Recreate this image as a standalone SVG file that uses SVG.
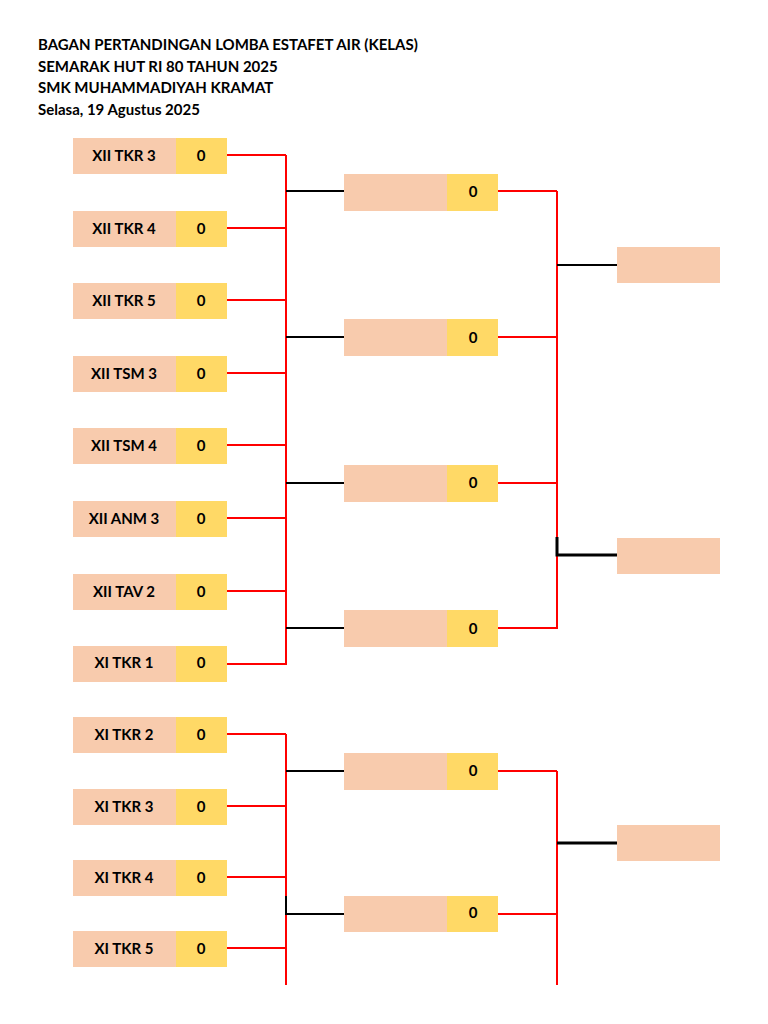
<svg xmlns="http://www.w3.org/2000/svg" width="768" height="1024" viewBox="0 0 768 1024">
<style>
.t{font-family:Lato,"Liberation Sans",sans-serif;font-weight:bold;font-size:15px;fill:#000}
.n{fill:#F8CBAD}
.s{fill:#FFD966}
.l{font-family:Lato,"Liberation Sans",sans-serif;font-weight:bold;font-size:15px;fill:#000;text-anchor:middle;dominant-baseline:central}
.r{stroke:#FF0000;stroke-width:2;fill:none}
.k{stroke:#000;stroke-width:2;fill:none}
.kk{stroke:#000;stroke-width:3;fill:none}
</style>
<rect width="768" height="1024" fill="#fff"/>
<g id="title">
<text class="t" x="38" y="50">BAGAN PERTANDINGAN LOMBA ESTAFET AIR (KELAS)</text>
<text class="t" x="38" y="72">SEMARAK HUT RI 80 TAHUN 2025</text>
<text class="t" x="38" y="93">SMK MUHAMMADIYAH KRAMAT</text>
<text class="t" x="38" y="115">Selasa, 19 Agustus 2025</text>
</g>
<g id="connectors">
<path class="r" d="M227 155H286M227 228H286M227 300H286M227 373H286M227 445H286M227 518H286M227 591H286M227 664H286M286 155V665"/>
<path class="k" d="M286 191H344M286 337H344M286 483H344M286 628H344"/>
<path class="r" d="M498 191H557M498 337H557M498 483H557M498 628H557M557 191V629"/>
<path class="k" d="M557 265H617"/>
<path class="kk" d="M557 537V555H617"/>
<path class="r" d="M227 734H286M227 806H286M227 877H286M227 948H286M286 734V985"/>
<path class="k" d="M286 771H344M286 896V914H344"/>
<path class="r" d="M498 771H557M498 914H557M557 771V985"/>
<path class="kk" d="M557 843H617"/>
</g>
<g id="r1-1"><rect class="n" x="73" y="138" width="103" height="36"/><rect class="s" x="176" y="138" width="51" height="36"/><text class="l" x="124" y="155">XII TKR 3</text><text class="l" x="201" y="155">0</text></g>
<g id="r1-2"><rect class="n" x="73" y="211" width="103" height="36"/><rect class="s" x="176" y="211" width="51" height="36"/><text class="l" x="124" y="228">XII TKR 4</text><text class="l" x="201" y="228">0</text></g>
<g id="r1-3"><rect class="n" x="73" y="283" width="103" height="36"/><rect class="s" x="176" y="283" width="51" height="36"/><text class="l" x="124" y="300">XII TKR 5</text><text class="l" x="201" y="300">0</text></g>
<g id="r1-4"><rect class="n" x="73" y="356" width="103" height="36"/><rect class="s" x="176" y="356" width="51" height="36"/><text class="l" x="124" y="373">XII TSM 3</text><text class="l" x="201" y="373">0</text></g>
<g id="r1-5"><rect class="n" x="73" y="428" width="103" height="36"/><rect class="s" x="176" y="428" width="51" height="36"/><text class="l" x="124" y="445">XII TSM 4</text><text class="l" x="201" y="445">0</text></g>
<g id="r1-6"><rect class="n" x="73" y="501" width="103" height="36"/><rect class="s" x="176" y="501" width="51" height="36"/><text class="l" x="124" y="518">XII ANM 3</text><text class="l" x="201" y="518">0</text></g>
<g id="r1-7"><rect class="n" x="73" y="574" width="103" height="36"/><rect class="s" x="176" y="574" width="51" height="36"/><text class="l" x="124" y="591">XII TAV 2</text><text class="l" x="201" y="591">0</text></g>
<g id="r1-8"><rect class="n" x="73" y="646" width="103" height="36"/><rect class="s" x="176" y="646" width="51" height="36"/><text class="l" x="124" y="662">XI TKR 1</text><text class="l" x="201" y="662">0</text></g>
<g id="r1-9"><rect class="n" x="73" y="717" width="103" height="36"/><rect class="s" x="176" y="717" width="51" height="36"/><text class="l" x="124" y="734">XI TKR 2</text><text class="l" x="201" y="734">0</text></g>
<g id="r1-10"><rect class="n" x="73" y="789" width="103" height="36"/><rect class="s" x="176" y="789" width="51" height="36"/><text class="l" x="124" y="806">XI TKR 3</text><text class="l" x="201" y="806">0</text></g>
<g id="r1-11"><rect class="n" x="73" y="860" width="103" height="36"/><rect class="s" x="176" y="860" width="51" height="36"/><text class="l" x="124" y="877">XI TKR 4</text><text class="l" x="201" y="877">0</text></g>
<g id="r1-12"><rect class="n" x="73" y="931" width="103" height="36"/><rect class="s" x="176" y="931" width="51" height="36"/><text class="l" x="124" y="948">XI TKR 5</text><text class="l" x="201" y="948">0</text></g>
<g id="r2-1"><rect class="n" x="344" y="174" width="103" height="37"/><rect class="s" x="447" y="174" width="51" height="37"/><text class="l" x="473" y="191">0</text></g>
<g id="r2-2"><rect class="n" x="344" y="319" width="103" height="37"/><rect class="s" x="447" y="319" width="51" height="37"/><text class="l" x="473" y="337">0</text></g>
<g id="r2-3"><rect class="n" x="344" y="465" width="103" height="37"/><rect class="s" x="447" y="465" width="51" height="37"/><text class="l" x="473" y="482">0</text></g>
<g id="r2-4"><rect class="n" x="344" y="610" width="103" height="37"/><rect class="s" x="447" y="610" width="51" height="37"/><text class="l" x="473" y="628">0</text></g>
<g id="r2-5"><rect class="n" x="344" y="753" width="103" height="37"/><rect class="s" x="447" y="753" width="51" height="37"/><text class="l" x="473" y="770">0</text></g>
<g id="r2-6"><rect class="n" x="344" y="896" width="103" height="36"/><rect class="s" x="447" y="896" width="51" height="36"/><text class="l" x="473" y="912">0</text></g>
<g id="r3-1"><rect class="n" x="617" y="247" width="103" height="36"/></g>
<g id="r3-2"><rect class="n" x="617" y="538" width="103" height="36"/></g>
<g id="r3-3"><rect class="n" x="617" y="825" width="103" height="36"/></g>
</svg>
